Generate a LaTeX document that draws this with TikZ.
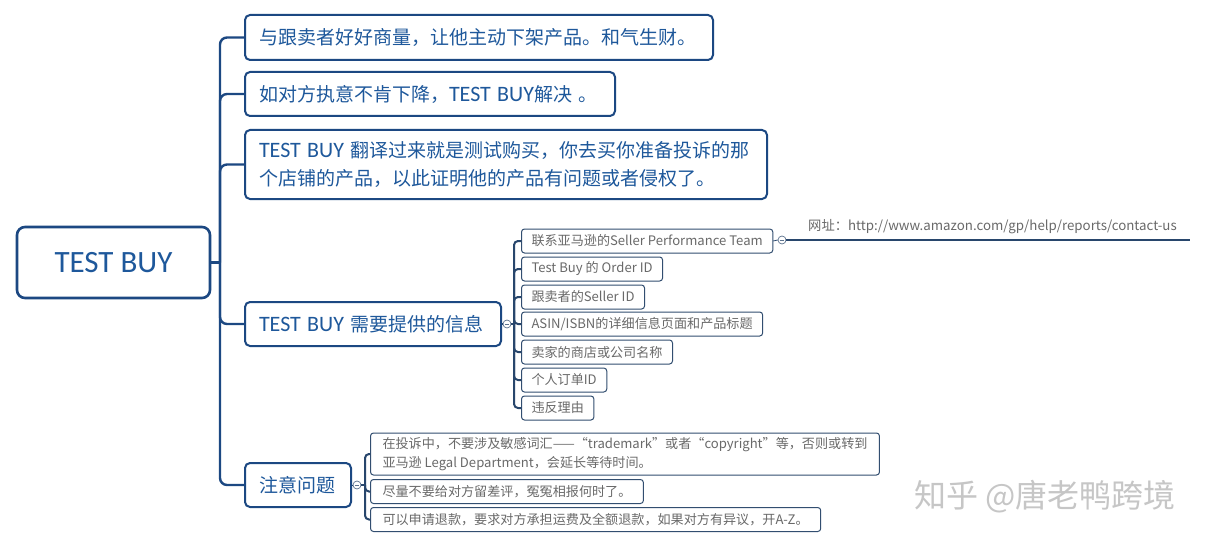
\documentclass[tikz,border=0pt]{standalone}
\usepackage{fontspec}
\setmainfont{Noto Sans CJK SC}
\newfontfamily\latf{Carlito}
\newcommand{\lat}{\latf\fontsize{22}{28}\selectfont}
\definecolor{mainblue}{RGB}{28,72,130}
\definecolor{textblue}{RGB}{30,88,155}
\definecolor{subborder}{RGB}{50,78,112}
\definecolor{subline}{RGB}{40,70,108}
\definecolor{subtext}{RGB}{105,105,105}
\definecolor{wm}{RGB}{198,198,198}
\tikzset{
  rootbox/.style={draw=mainblue, line width=2.6pt, rounded corners=8pt, fill=white, text=textblue,
    minimum width=193pt, minimum height=71pt, inner sep=0pt, font=\latf\fontsize{31}{36}\selectfont},
  mainbox/.style={draw=mainblue, line width=2pt, rounded corners=5pt, fill=white, text=textblue,
    anchor=west, align=left, inner xsep=14pt, inner ysep=0pt, font=\fontsize{19}{28}\selectfont},
  subbox/.style={draw=subborder, line width=1pt, rounded corners=3pt, fill=white, text=subtext,
    anchor=west, align=left, inner xsep=10pt, inner ysep=0pt, minimum height=24pt, font=\fontsize{13.1}{19}\selectfont},
  knob/.style={circle, draw=subborder!80, fill=white, line width=0.7pt, minimum size=8pt, inner sep=0pt,
    path picture={\draw[subborder!80, line width=0.7pt] ([xshift=1.8pt]path picture bounding box.west) -- ([xshift=-1.8pt]path picture bounding box.east);}},
  trunk/.style={draw=mainblue, line width=2.4pt, rounded corners=7pt},
  twig/.style={draw=subline, line width=2pt, rounded corners=4pt},
}
\begin{document}
\begin{tikzpicture}[x=1pt,y=-1pt]
\useasboundingbox (0,0) rectangle (1206,548);
\fill[white] (0,0) rectangle (1206,548);

% root
\node[rootbox] (root) at (113.5,262.5) {TEST BUY};
\coordinate (jr) at (220,262.5);

% main branches
\node[mainbox, text width=440pt, minimum height=45pt] (b1) at (244,37.5) {与跟卖者好好商量，让他主动下架产品。和气生财。};
\node[mainbox, text width=342pt, minimum height=44pt] (b2) at (244,94) {如对方执意不肯下降，{\lat TEST BUY}解决 。};
\node[mainbox, text width=494pt, minimum height=69pt] (b3) at (244,164.5) {{\lat TEST BUY} 翻译过来就是测试购买，你去买你准备投诉的那\\个店铺的产品，以此证明他的产品有问题或者侵权了。};
\node[mainbox, text width=228pt, minimum height=44pt] (b4) at (244,324) {{\lat TEST BUY} 需要提供的信息};
\node[mainbox, text width=78pt, minimum height=44pt] (b5) at (244,485) {注意问题};

\draw[trunk] (root.east) -- (jr);
\foreach \b in {b1,b2,b3,b4,b5} \draw[trunk] (jr) |- (\b.west);

% info children
\node[knob] (k4) at (507,324) {};
\coordinate (j4) at (514,324);
\node[subbox] (s1) at (521,241) {联系亚马逊的Seller Performance Team};
\node[subbox] (s2) at (521,269) {Test Buy 的 Order ID};
\node[subbox] (s3) at (521,297) {跟卖者的Seller ID};
\node[subbox] (s4) at (521,324) {ASIN/ISBN的详细信息页面和产品标题};
\node[subbox] (s5) at (521,352) {卖家的商店或公司名称};
\node[subbox] (s6) at (521,380) {个人订单ID};
\node[subbox] (s7) at (521,408) {违反理由};
\draw[subline, line width=1.2pt] (b4.east) -- (k4.west);
\draw[twig] (k4.east) -- (j4);
\foreach \s in {s1,s2,s3,s4,s5,s6,s7} \draw[twig] (j4) |- (\s.west);

% url
\node[knob] (k1) at (782,240) {};
\coordinate (urlend) at (1190,240);
\draw[subline, line width=0.8pt] (s1.east) -- (k1.west);
\draw[draw=subline, line width=2.6pt] (k1.east) -- (urlend);
\node[anchor=south west, text=subtext, inner sep=0pt, font=\fontsize{13.3}{16}\selectfont] (url) at (808,234) {网址：http://www.amazon.com/gp/help/reports/contact-us};

% notes children
\node[knob] (k5) at (357,485) {};
\coordinate (j5) at (365,485);
\node[subbox, inner xsep=12pt, minimum height=42pt] (n1) at (370,454) {在投诉中，不要涉及敏感词汇——“trademark”或者“copyright”等，否则或转到\\亚马逊 Legal Department，会延长等待时间。};
\node[subbox, inner xsep=12pt] (n2) at (370,491.5) {尽量不要给对方留差评，冤冤相报何时了。};
\node[subbox, inner xsep=12pt] (n3) at (370,519.5) {可以申请退款，要求对方承担运费及全额退款，如果对方有异议，开A-Z。};
\draw[subline, line width=0.8pt] (b5.east) -- (k5.west);
\draw[twig] (k5.east) -- (j5);
\foreach \n in {n1,n2,n3} \draw[twig] (j5) |- (\n.west);

% watermark signature
\node[text=wm, font=\fontsize{32}{36}\selectfont, anchor=west, inner sep=0pt] (sig) at (914,497) {知乎 @唐老鸭跨境};
\end{tikzpicture}
\end{document}
